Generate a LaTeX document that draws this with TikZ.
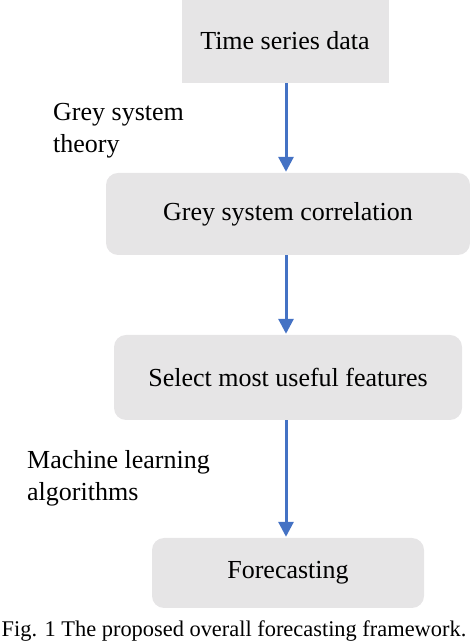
\documentclass[tikz,border=0pt]{standalone}
\usepackage{fontspec}
\setmainfont{Liberation Serif}
\usetikzlibrary{arrows.meta}
\definecolor{boxgrey}{HTML}{E6E5E6}
\definecolor{arrblue}{HTML}{4472C4}
\tikzset{
  boxsq/.style={fill=boxgrey, draw=none, inner sep=0pt, font=\fontsize{26}{32}\selectfont},
  boxrd/.style={boxsq, rounded corners=12pt},
  lbl/.style={align=left, inner sep=0pt, font=\fontsize{26}{32}\selectfont},
  caplbl/.style={inner sep=0pt, font=\fontsize{22.4}{27}\selectfont},
  arr/.style={draw=arrblue, line width=3pt, -{Triangle[length=15pt,width=15pt]}, shorten >=1pt}
}
\begin{document}
\begin{tikzpicture}[x=1pt,y=1pt]
\useasboundingbox (0,0) rectangle (470,644);
\node[boxsq, minimum width=207pt, minimum height=84pt] (b1) at (285,603) {Time series data};
\node[boxrd, minimum width=364pt, minimum height=82pt] (b2) at (288,430) {Grey system correlation};
\node[boxrd, minimum width=348pt, minimum height=85pt] (b3) at (288,266.5) {Select most useful features};
\node[boxrd, minimum width=272pt, minimum height=70pt] (b4) at (288,71) {Forecasting};
\coordinate (a1s) at (286,0 |- b1.south);
\coordinate (a1e) at (286,0 |- b2.north);
\coordinate (a2s) at (286,0 |- b2.south);
\coordinate (a2e) at (286,0 |- b3.north);
\coordinate (a3s) at (286,0 |- b3.south);
\coordinate (a3e) at (286,0 |- b4.north);
\draw[arr] (a1s) -- (a1e);
\draw[arr] (a2s) -- (a2e);
\draw[arr] (a3s) -- (a3e);
\node[lbl, anchor=west] (l1) at (53,513) {Grey system\\theory};
\node[lbl, anchor=west] (l2) at (27,166) {Machine learning\\algorithms};
\node[caplbl, anchor=base] (cap) at (234,7) {Fig. 1 The proposed overall forecasting framework.};
\end{tikzpicture}
\end{document}
